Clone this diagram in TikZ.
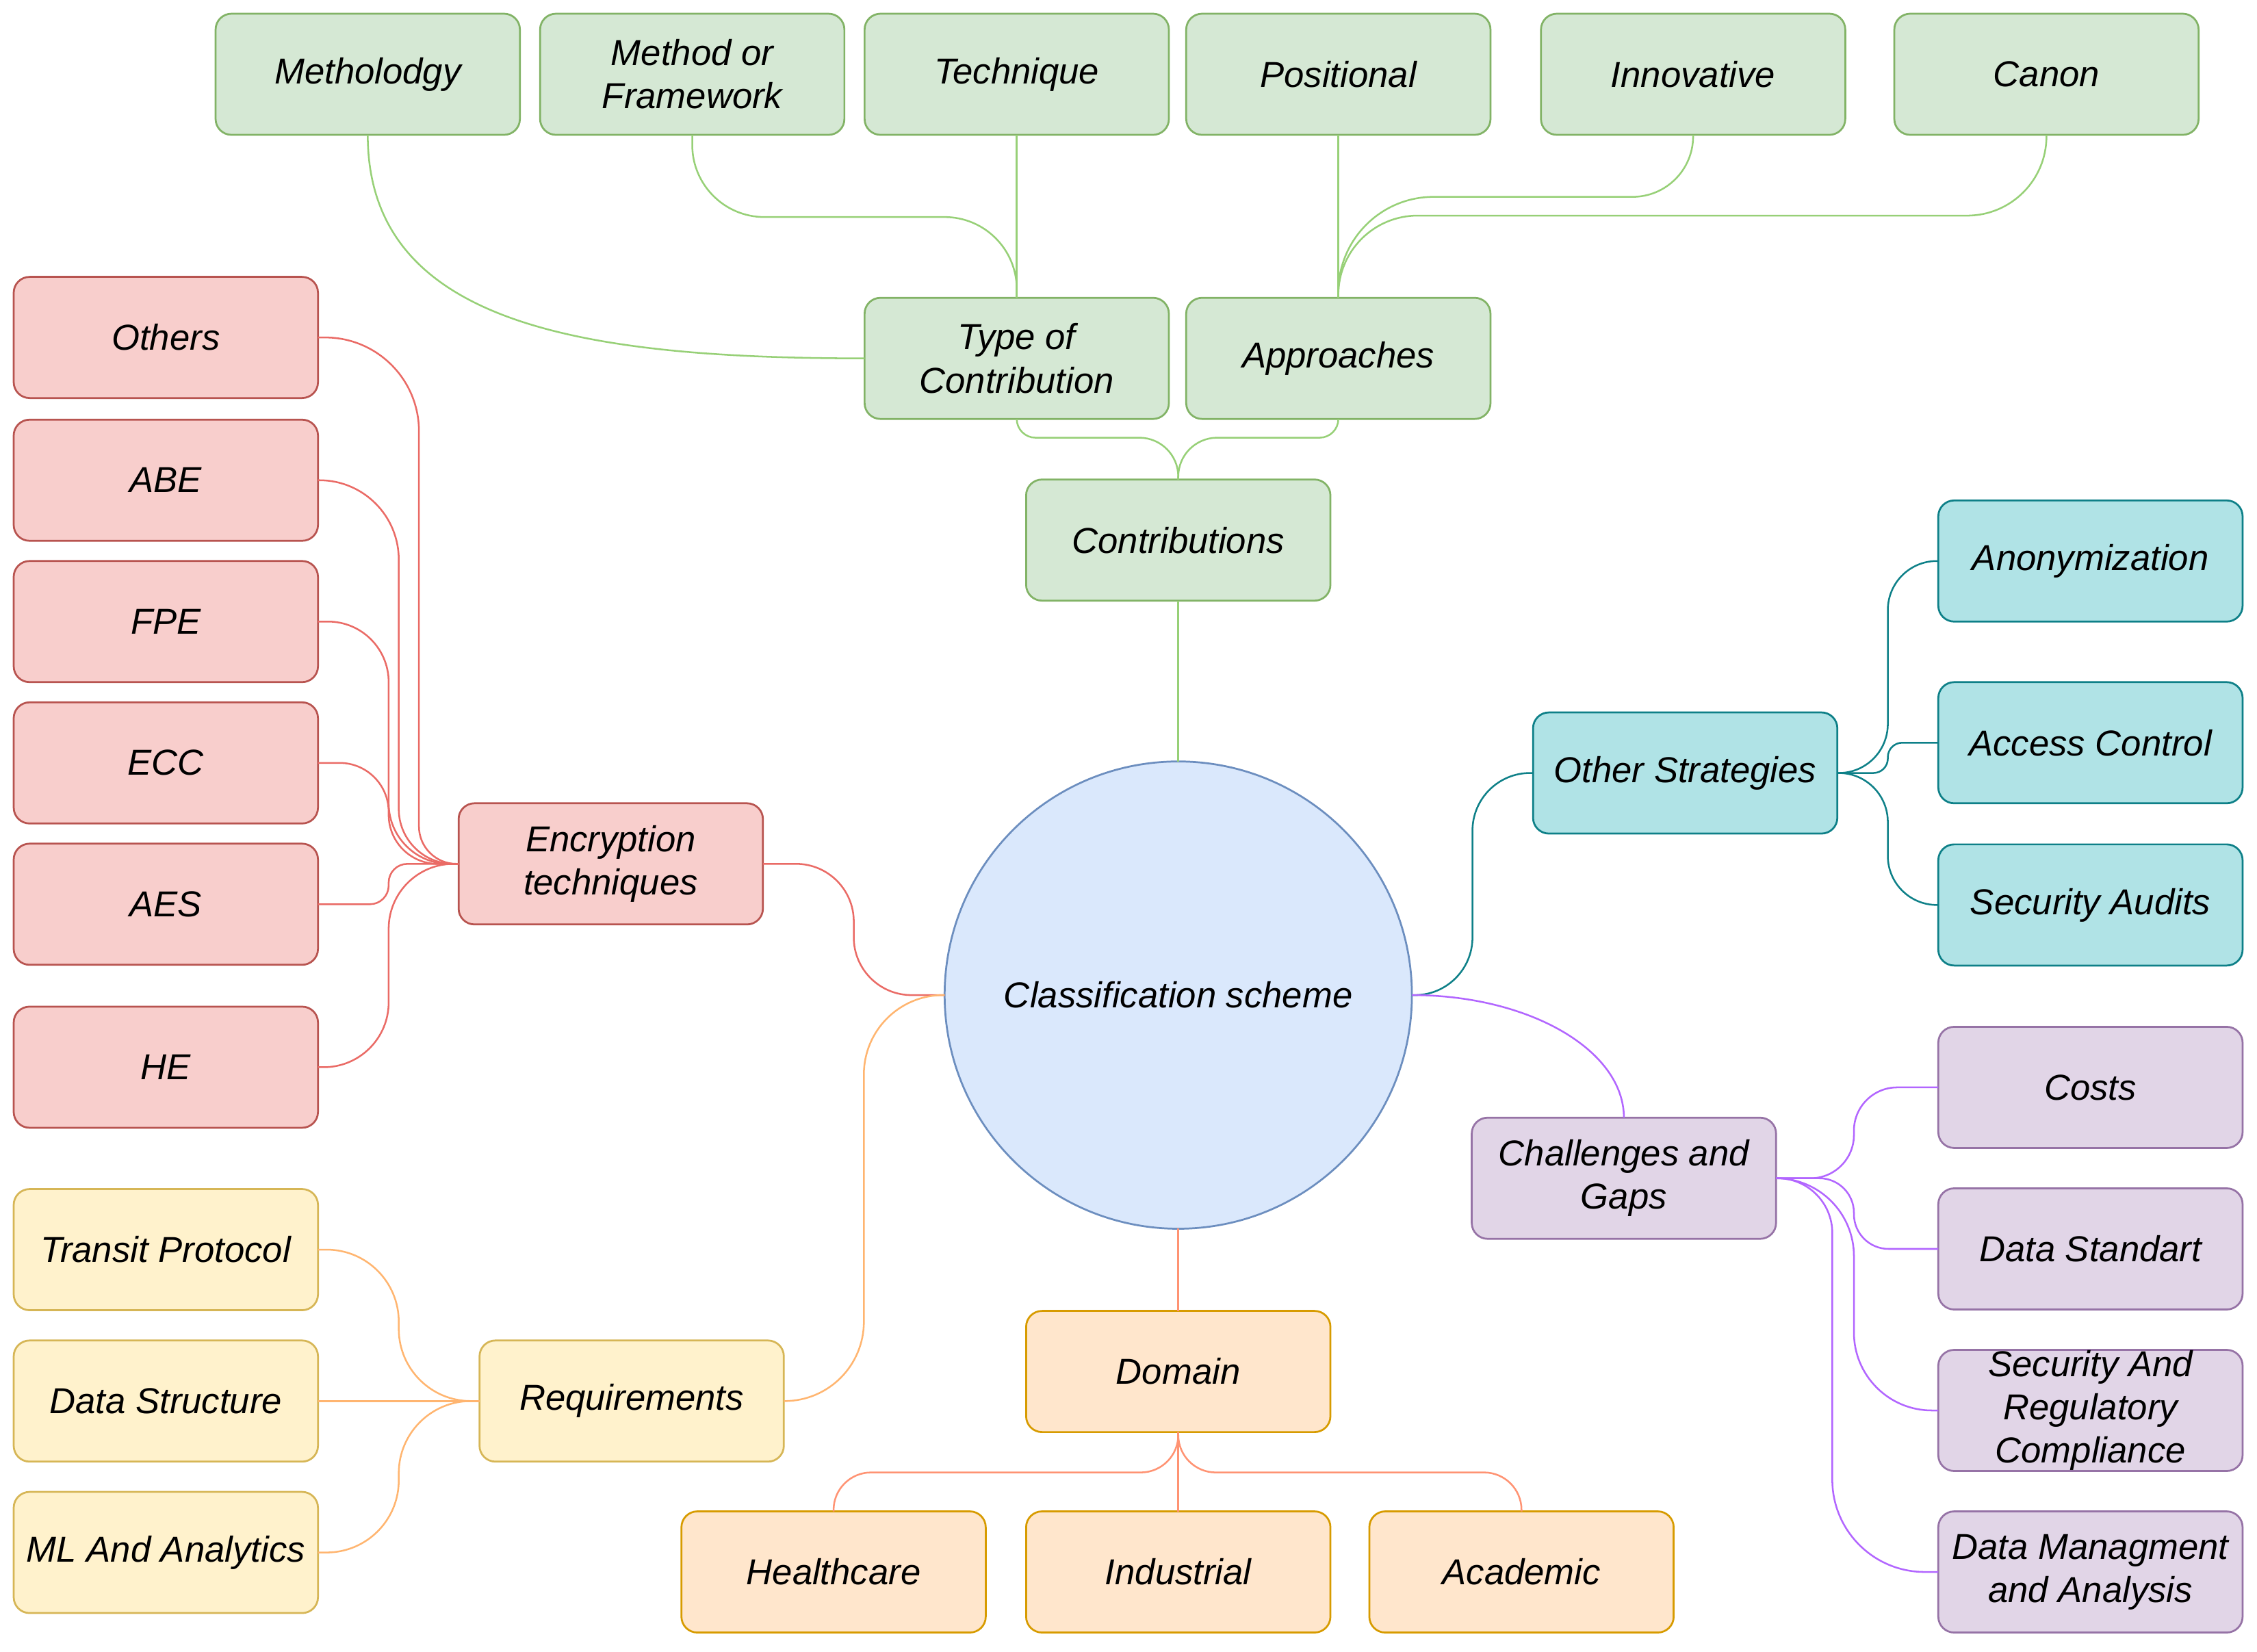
\documentclass[tikz,border=0pt]{standalone}
\usepackage{fontspec}
\setmainfont{Liberation Sans}
\usetikzlibrary{positioning,calc}

\definecolor{greenfill}{HTML}{D5E8D4}
\definecolor{greendraw}{HTML}{82B366}
\definecolor{greenedge}{HTML}{97D077}
\definecolor{redfill}{HTML}{F8CECC}
\definecolor{reddraw}{HTML}{B85450}
\definecolor{rededge}{HTML}{EA6B66}
\definecolor{cyanfill}{HTML}{B0E3E6}
\definecolor{cyandraw}{HTML}{0E8088}
\definecolor{cyanedge}{HTML}{0E8088}
\definecolor{purplefill}{HTML}{E1D5E7}
\definecolor{purpledraw}{HTML}{9673A6}
\definecolor{purpleedge}{HTML}{B266FF}
\definecolor{orangefill}{HTML}{FFE6CC}
\definecolor{orangedraw}{HTML}{D79B00}
\definecolor{orangeedge}{HTML}{FF9373}
\definecolor{yellowfill}{HTML}{FFF2CC}
\definecolor{yellowdraw}{HTML}{D6B656}
\definecolor{yellowedge}{HTML}{FFB570}
\definecolor{bluefill}{HTML}{DAE8FC}
\definecolor{bluedraw}{HTML}{6C8EBF}

\begin{document}
\begin{tikzpicture}[x=1pt, y=1pt,
    box/.style={draw, rectangle, rounded corners=11pt, line width=1.3pt, minimum width=211pt, minimum height=84pt, inner sep=2pt, outer sep=0pt, align=center, font=\fontsize{25}{30}\selectfont\itshape},
    greenbox/.style={box, fill=greenfill, draw=greendraw},
    redbox/.style={box, fill=redfill, draw=reddraw},
    cyanbox/.style={box, fill=cyanfill, draw=cyandraw},
    purplebox/.style={box, fill=purplefill, draw=purpledraw},
    orangebox/.style={box, fill=orangefill, draw=orangedraw},
    yellowbox/.style={box, fill=yellowfill, draw=yellowdraw},
    link/.style={line width=1.2pt},
    greenlink/.style={link, draw=greenedge},
    redlink/.style={link, draw=rededge},
    cyanlink/.style={link, draw=cyanedge},
    purplelink/.style={link, draw=purpleedge},
    orangelink/.style={link, draw=orangeedge},
    yellowlink/.style={link, draw=yellowedge}]
        \useasboundingbox (0,0) rectangle (1565,-1145.5);

        % Centre
        \node[draw=bluedraw, fill=bluefill, circle, line width=1.3pt, outer sep=0pt, minimum size=324pt, font=\fontsize{25}{30}\selectfont\itshape] (circ) at (817,-690) {Classification scheme};

        % Contributions
        \node[greenbox] (mth) at (255,-51.5) {Metholodgy};
        \node[greenbox, right=14pt of mth] (mof) {Method or\\Framework};
        \node[greenbox, right=14pt of mof] (tech) {Technique};
        \node[greenbox, right=12pt of tech] (pos) {Positional};
        \node[greenbox, right=35pt of pos] (inn) {Innovative};
        \node[greenbox, right=34pt of inn] (can) {Canon};
        \node[greenbox] (toc) at (705,-248.5) {Type of\\Contribution};
        \node[greenbox] (app) at (928,-248.5) {Approaches};
        \node[greenbox] (cont) at (817,-374.5) {Contributions};

        % Encryption techniques
        \node[redbox] (oth) at (115,-234) {Others};
        \node[redbox, below=15pt of oth] (abe) {ABE};
        \node[redbox, below=14pt of abe] (fpe) {FPE};
        \node[redbox, below=14pt of fpe] (ecc) {ECC};
        \node[redbox, below=14pt of ecc] (aes) {AES};
        \node[redbox, below=29pt of aes] (he) {HE};
        \node[redbox] (enc) at (423.5,-599) {Encryption\\techniques};

        % Other strategies
        \node[cyanbox] (os) at (1168.5,-536) {Other Strategies};
        \node[cyanbox] (anon) at (1449.5,-389) {Anonymization};
        \node[cyanbox] (acc) at (1449.5,-515) {Access Control};
        \node[cyanbox] (sa) at (1449.5,-627.5) {Security Audits};

        % Challenges and gaps
        \node[purplebox] (cg) at (1126,-817) {Challenges and\\Gaps};
        \node[purplebox] (cost) at (1449.5,-754) {Costs};
        \node[purplebox, below=28pt of cost] (dst) {Data Standart};
        \node[purplebox, below=28pt of dst, inner ysep=0pt] (src) {Security And\\Regulatory\\Compliance};
        \node[purplebox] (dma) at (1449.5,-1090) {Data Managment\\and Analysis};

        % Domain
        \node[orangebox] (dom) at (817,-951) {Domain};
        \node[orangebox] (hc) at (578,-1090) {Healthcare};
        \node[orangebox, right=28pt of hc] (ind) {Industrial};
        \node[orangebox, right=27pt of ind] (acd) {Academic};

        % Requirements
        \node[yellowbox] (req) at (438,-971.5) {Requirements};
        \node[yellowbox] (tp) at (115,-866.5) {Transit Protocol};
        \node[yellowbox, below=21pt of tp] (dsr) {Data Structure};
        \node[yellowbox, below=21pt of dsr] (ml) {ML And Analytics};

        % Links: contributions
        \draw[greenlink] (mth.south) .. controls +(0,-130) and +(-200,0) .. (toc.west);
        \draw[greenlink, rounded corners=50pt] (mof.south) -- ++(0,-57) -| (toc.north);
        \draw[greenlink] (tech.south) -- (toc.north);
        \draw[greenlink] (pos.south) -- (app.north);
        \draw[greenlink, rounded corners=42pt] (inn.south) -- ++(0,-43) -- ++(-110,0) [rounded corners=66pt] -| (app.north);
        \draw[greenlink, rounded corners=55pt] (can.south) -- ++(0,-56) -| (app.north);
        \draw[greenlink, rounded corners=13pt] (toc.south) -- ++(0,-13) -- ++(42,0) [rounded corners=27pt] -| (cont.north);
        \draw[greenlink, rounded corners=13pt] (app.south) -- ++(0,-13) -- ++(-42,0) [rounded corners=27pt] -| (cont.north);
        \draw[greenlink] (cont.south) -- (circ.north);

        % Links: encryption
        \draw[redlink, rounded corners=40pt] (circ.west) -- ++(-63,0) |- (enc.east);
        \draw[redlink, rounded corners=65pt] (oth.east) -- ++(70,0) -- ++(0,-250) [rounded corners=26pt] |- (enc.west);
        \draw[redlink, rounded corners=55pt] (abe.east) -- ++(56,0) -- ++(0,-150) [rounded corners=38pt] |- (enc.west);
        \draw[redlink, rounded corners=42pt] (fpe.east) -- ++(49,0) |- (enc.west);
        \draw[redlink, rounded corners=34pt] (ecc.east) -- ++(49,0) |- (enc.west);
        \draw[redlink, rounded corners=13pt] (aes.east) -- ++(49,0) |- (enc.west);
        \draw[redlink, rounded corners=45pt] (he.east) -- ++(49,0) |- (enc.west);

        % Links: requirements
        \draw[yellowlink, rounded corners=55pt] (circ.west) -- ++(-56,0) |- (req.east);
        \draw[yellowlink, rounded corners=50pt] (tp.east) -- ++(56,0) |- (req.west);
        \draw[yellowlink] (dsr.east) -- (req.west);
        \draw[yellowlink, rounded corners=50pt] (ml.east) -- ++(56,0) |- (req.west);

        % Links: domain
        \draw[orangelink] (circ.south) -- (dom.north);
        \draw[orangelink, rounded corners=26pt] (dom.south) -- ++(0,-28) -| (hc.north);
        \draw[orangelink] (dom.south) -- (ind.north);
        \draw[orangelink, rounded corners=26pt] (dom.south) -- ++(0,-28) -| (acd.north);

        % Links: other strategies
        \draw[cyanlink, rounded corners=40pt] (circ.east) -- ++(42,0) |- (os.west);
        \draw[cyanlink, rounded corners=34pt] (os.east) -- ++(35,0) |- (anon.west);
        \draw[cyanlink, rounded corners=10pt] (os.east) -- ++(35,0) |- (acc.west);
        \draw[cyanlink, rounded corners=34pt] (os.east) -- ++(35,0) |- (sa.west);

        % Links: challenges and gaps
        \draw[purplelink] (circ.east) .. controls +(81,0) and +(0,47) .. (cg.north);
        \draw[purplelink, rounded corners=30pt] (cg.east) -- ++(54,0) |- (cost.west);
        \draw[purplelink, rounded corners=24pt] (cg.east) -- ++(54,0) |- (dst.west);
        \draw[purplelink, rounded corners=54pt] (cg.east) -- ++(54,0) |- (src.west);
        \draw[purplelink, rounded corners=38pt] (cg.east) -- ++(39,0) -- ++(0,-110) [rounded corners=64pt] |- (dma.west);
    \end{tikzpicture}
\end{document}
